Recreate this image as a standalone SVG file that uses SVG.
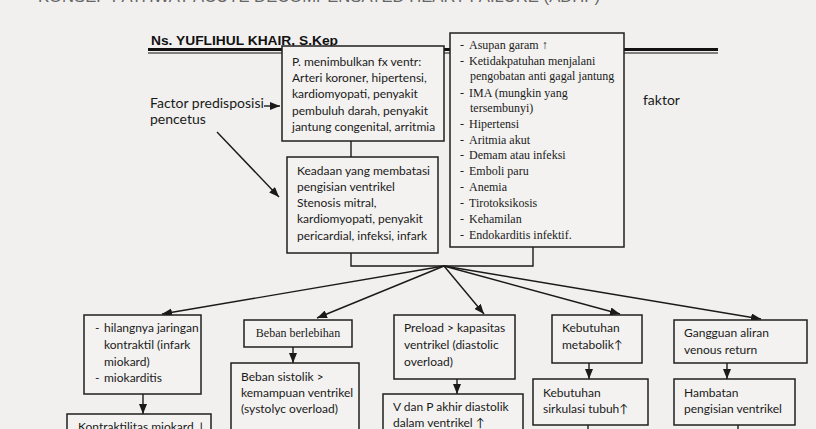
<svg xmlns="http://www.w3.org/2000/svg" width="816" height="429" viewBox="0 0 816 429">
<defs>
<marker id="ah" markerUnits="userSpaceOnUse" markerWidth="10" markerHeight="8" refX="10" refY="4" orient="auto">
<path d="M0,0 L10,4 L0,8 z" fill="#1a1a1a"/>
</marker>
<style>
.bx{fill:#f3f2f0;stroke:#1f1f1f;stroke-width:1.5}
.t{font-family:Lato,"Open Sans","Liberation Sans",sans-serif;font-size:12px;fill:#1a1a1a}
.s{font-family:"Liberation Serif","DejaVu Serif",serif;font-size:12px;fill:#1a1a1a}
.ln{stroke:#1a1a1a;stroke-width:1.4;fill:none}
.ar{stroke:#1a1a1a;stroke-width:1.4;fill:none;marker-end:url(#ah)}
</style>
</defs>
<rect width="816" height="429" fill="#f1f0ee"/>
<text x="38" y="2" font-family="Liberation Sans,sans-serif" font-size="16" fill="#666" textLength="562" lengthAdjust="spacingAndGlyphs">KONSEP PATHWAY ACUTE DECOMPENSATED HEART FAILURE (ADHF)</text>
<g id="header">
<text x="151" y="45" font-family="Liberation Sans,Arial,sans-serif" font-weight="bold" font-size="13.6" fill="#111" textLength="187" lengthAdjust="spacingAndGlyphs">Ns. YUFLIHUL KHAIR, S.Kep</text>
<line x1="148" y1="49.5" x2="718" y2="49.5" stroke="#111" stroke-width="3"/>
<line x1="148" y1="53" x2="718" y2="53" stroke="#111" stroke-width="1"/>
</g>
<g id="labels">
<text class="t" x="150" y="108" style="font-size:14px">Factor predisposisi</text>
<text class="t" x="150" y="124" style="font-size:14px">pencetus</text>
<text class="t" x="643" y="105" style="font-size:14px">faktor</text>
</g>
<g id="connectors">
<line class="ar" x1="264" y1="106" x2="280" y2="106"/>
<line class="ar" x1="217" y1="132" x2="279" y2="197"/>
<line class="ln" x1="351" y1="141" x2="351" y2="157"/>
<polyline class="ln" points="351,253 351,266 533,266 533,247"/>
<line class="ar" x1="444" y1="266" x2="162" y2="314"/>
<line class="ar" x1="444" y1="266" x2="317" y2="318"/>
<line class="ar" x1="444" y1="266" x2="484" y2="314"/>
<line class="ar" x1="444" y1="266" x2="620" y2="314"/>
<line class="ar" x1="444" y1="266" x2="761" y2="319"/>
<line class="ar" x1="143" y1="394" x2="143" y2="414"/>
<line class="ar" x1="293" y1="347" x2="293" y2="363"/>
<line class="ar" x1="457" y1="379" x2="457" y2="394"/>
<line class="ar" x1="589" y1="363" x2="589" y2="379"/>
<line class="ar" x1="727" y1="363" x2="727" y2="379"/>
<line class="ln" x1="588" y1="425" x2="588" y2="430"/>
<line class="ln" x1="738" y1="425" x2="738" y2="430"/>
</g>
<g id="box1">
<rect class="bx" x="282" y="46" width="162" height="95"/>
<text class="t" x="292" y="66">P. menimbulkan fx ventr:</text>
<text class="t" x="292" y="82">Arteri koroner, hipertensi,</text>
<text class="t" x="292" y="98">kardiomyopati, penyakit</text>
<text class="t" x="292" y="115">pembuluh darah, penyakit</text>
<text class="t" x="292" y="131">jantung congenital, arritmia</text>
</g>
<g id="box2">
<rect class="bx" x="287" y="157" width="151" height="96"/>
<text class="t" x="297" y="175">Keadaan yang membatasi</text>
<text class="t" x="297" y="191">pengisian ventrikel</text>
<text class="t" x="297" y="207">Stenosis mitral,</text>
<text class="t" x="297" y="223">kardiomyopati, penyakit</text>
<text class="t" x="297" y="240">pericardial, infeksi, infark</text>
</g>
<g id="boxFaktor">
<rect class="bx" x="450" y="33" width="174" height="214"/>
<g class="s">
<text x="460" y="49">-</text><text x="469" y="49">Asupan  garam ↑</text>
<text x="460" y="65">-</text><text x="469" y="65">Ketidakpatuhan menjalani</text>
<text x="470" y="80">pengobatan anti gagal jantung</text>
<text x="460" y="97">-</text><text x="469" y="97">IMA (mungkin yang</text>
<text x="470" y="112">tersembunyi)</text>
<text x="460" y="128">-</text><text x="469" y="128">Hipertensi</text>
<text x="460" y="144">-</text><text x="469" y="144">Aritmia akut</text>
<text x="460" y="159">-</text><text x="469" y="159">Demam atau infeksi</text>
<text x="460" y="175">-</text><text x="469" y="175">Emboli paru</text>
<text x="460" y="191">-</text><text x="469" y="191">Anemia</text>
<text x="460" y="207">-</text><text x="469" y="207">Tirotoksikosis</text>
<text x="460" y="223">-</text><text x="469" y="223">Kehamilan</text>
<text x="460" y="239">-</text><text x="469" y="239">Endokarditis infektif.</text>
</g>
</g>
<g id="boxA">
<rect class="bx" x="84" y="315" width="117" height="79"/>
<text class="t" x="95" y="332">-</text><text class="t" x="104" y="332">hilangnya jaringan</text>
<text class="t" x="104" y="349">kontraktil (infark</text>
<text class="t" x="104" y="366">miokard)</text>
<text class="t" x="95" y="382">-</text><text class="t" x="104" y="382">miokarditis</text>
</g>
<g id="boxA2">
<rect class="bx" x="67" y="414" width="144" height="30"/>
<text class="t" x="78" y="431">Kontraktilitas miokard ↓,</text>
</g>
<g id="boxB">
<rect class="bx" x="244" y="320" width="108" height="27"/>
<text class="s" x="298" y="337" text-anchor="middle">Beban berlebihan</text>
</g>
<g id="boxB2">
<rect class="bx" x="231" y="363" width="128" height="80"/>
<text class="t" x="241" y="381">Beban sistolik &gt;</text>
<text class="t" x="241" y="397">kemampuan ventrikel</text>
<text class="t" x="241" y="413">(systolyc overload)</text>
</g>
<g id="boxC">
<rect class="bx" x="394" y="315" width="121" height="64"/>
<text class="t" x="404" y="332">Preload &gt; kapasitas</text>
<text class="t" x="404" y="349">ventrikel (diastolic</text>
<text class="t" x="404" y="366">overload)</text>
</g>
<g id="boxC2">
<rect class="bx" x="383" y="394" width="140" height="50"/>
<text class="t" x="393" y="411">V dan P akhir diastolik</text>
<text class="t" x="393" y="427">dalam ventrikel ↑</text>
</g>
<g id="boxD">
<rect class="bx" x="552" y="315" width="90" height="48"/>
<text class="t" x="562" y="332">Kebutuhan</text>
<text class="t" x="562" y="349">metabolik↑</text>
</g>
<g id="boxD2">
<rect class="bx" x="533" y="379" width="115" height="46"/>
<text class="t" x="543" y="397">Kebutuhan</text>
<text class="t" x="543" y="413">sirkulasi tubuh↑</text>
</g>
<g id="boxE">
<rect class="bx" x="674" y="320" width="133" height="43"/>
<text class="t" x="684" y="337">Gangguan aliran</text>
<text class="t" x="684" y="354">venous return</text>
</g>
<g id="boxE2">
<rect class="bx" x="674" y="379" width="121" height="46"/>
<text class="t" x="684" y="397">Hambatan</text>
<text class="t" x="684" y="413">pengisian ventrikel</text>
</g>
</svg>
